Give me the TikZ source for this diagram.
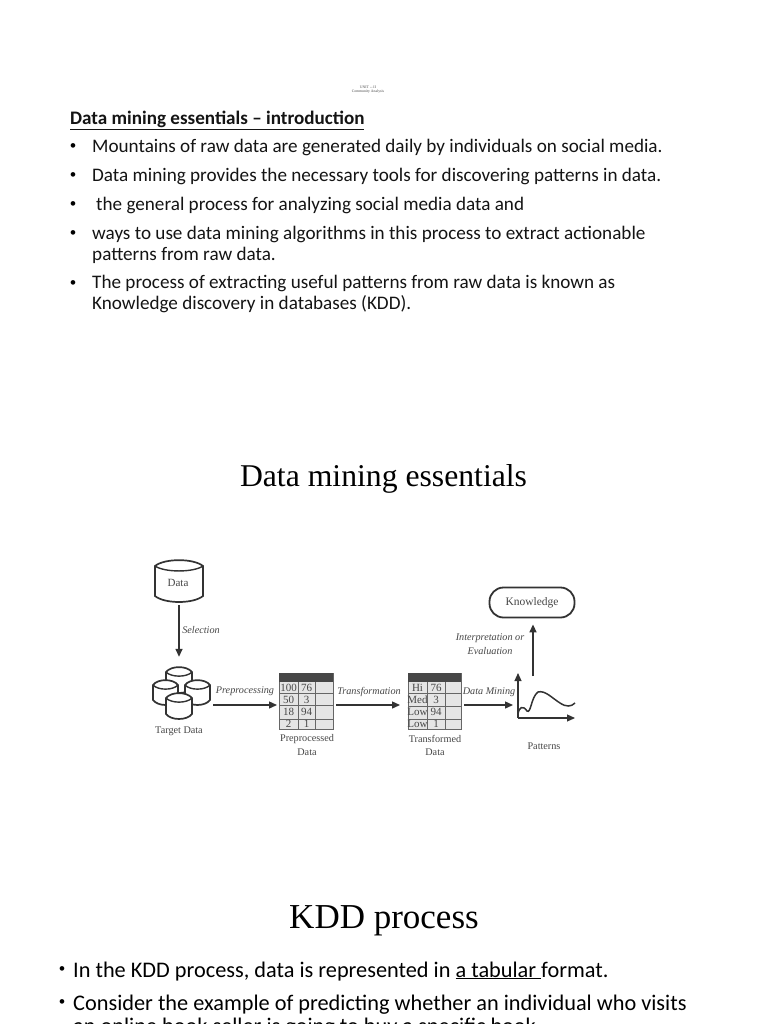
\documentclass[tikz,border=0pt]{standalone}
\usepackage{fontspec}
\setmainfont{Carlito}
\newfontfamily\serifface{Liberation Serif}
\newfontfamily\bulletface{Liberation Sans}
\usetikzlibrary{arrows.meta}
\newcommand{\fs}[1]{\fontsize{#1}{#1}\selectfont}
\colorlet{ink}{black!80}
\colorlet{soft}{black!72}
\tikzset{
  x=1pt,y=-1pt,
  bodytxt/.style={anchor=base west,inner sep=0pt,font=\fs{19.15},text=black!92},
  bigtxt/.style={anchor=base west,inner sep=0pt,font=\fs{22.3},text=black},
  bull/.style={anchor=base,inner sep=0pt,font=\bulletface\fs{17},text=black},
  bigbull/.style={anchor=base,inner sep=0pt,font=\bulletface\fs{17},text=black},
  titletxt/.style={anchor=base,inner sep=0pt,font=\serifface\fs{31.7},text=black},
  figtxt/.style={inner sep=0pt,font=\serifface\fs{10.2},text=soft},
  figit/.style={inner sep=0pt,font=\serifface\itshape\fs{10.2},text=soft},
  celltxt/.style={inner sep=0pt,font=\serifface\fs{11},text=soft},
  tiny/.style={inner sep=0pt,font=\serifface\fs{3.8},text=black!70},
  flow/.style={draw=ink,line width=1.4pt,-{Triangle[length=8pt,width=7pt]}},
  cyl/.style={draw=ink,line width=1.7pt,fill=white},
  grid/.style={draw=black!60,line width=.8pt},
  tabbox/.style={draw=black!60,line width=.8pt,fill=black!10,inner sep=0pt,anchor=north west},
  header/.style={draw=none,fill=black!72,inner sep=0pt,anchor=north west},
  frame/.style={draw=ink,line width=1.8pt,rounded corners=14pt,inner sep=0pt,
     font=\serifface\fs{11.5},text=soft,minimum width=85pt,minimum height=30pt},
  ghost/.style={inner sep=0pt,draw=none},
}
% x-left, y-top, width, height, rim depth
\newcommand{\drum}[5]{%
  \path[cyl] (#1,#2+#5) .. controls (#1+.2*#3,#2-.3*#5) and (#1+.8*#3,#2-.3*#5) .. (#1+#3,#2+#5)
    -- (#1+#3,#2+#4-#5) .. controls (#1+.8*#3,#2+#4+.33*#5) and (#1+.2*#3,#2+#4+.33*#5) .. (#1,#2+#4-#5) -- cycle;
  \draw[draw=ink,line width=1.4pt] (#1,#2+#5) .. controls (#1+.2*#3,#2+2.1*#5) and (#1+.8*#3,#2+2.1*#5) .. (#1+#3,#2+#5);}
\begin{document}
\begin{tikzpicture}
\useasboundingbox (0,0) rectangle (768,1024);
\clip (0,0) rectangle (768,1024);
\fill[white] (0,0) rectangle (768,1024);

\node[tiny] (unit) at (368,87) {UNIT -- II};
\node[tiny] (comm) at (368,92) {Community Analysis};

\node[bodytxt,font=\bfseries\fs{19.1}] (head) at (70,125) {\underline{Data mining essentials -- introduction}};
\node[bull] (b1) at (73,152) {•};
\node[bodytxt] (t1) at (92,153) {Mountains of raw data are generated daily by individuals on social media.};
\node[bull] (b2) at (73,181) {•};
\node[bodytxt] (t2) at (92,182) {Data mining provides the necessary tools for discovering patterns in data.};
\node[bull] (b3) at (73,210) {•};
\node[bodytxt] (t3) at (96,211) {the general process for analyzing social media data and};
\node[bull] (b4) at (73,239) {•};
\node[bodytxt] (t4) at (92,239.5) {ways to use data mining algorithms in this process to extract actionable};
\node[bodytxt] (t4b) at (92,260.5) {patterns from raw data.};
\node[bull] (b5) at (73,288) {•};
\node[bodytxt] (t5) at (92,288) {The process of extracting useful patterns from raw data is known as};
\node[bodytxt] (t5b) at (92,309) {Knowledge discovery in databases (KDD).};

\node[titletxt] (title1) at (383.5,486) {Data mining essentials};
\node[titletxt,font=\serifface\fs{35}] (title2) at (384,928) {KDD process};

\node[bigbull] (b6) at (62,974) {•};
\node[bigtxt] (t6) at (73,977) {In the KDD process, data is represented in \underline{a tabular }format.};
\node[bigbull] (b7) at (62,1007) {•};
\node[bigtxt] (t7) at (73,1010) {Consider the example of predicting whether an individual who visits};
\node[bigtxt] (t7b) at (73,1033) {an online book seller is going to buy a specific book.};

% Data store
\drum{155}{560}{48}{42}{6}
\node[ghost,minimum width=48pt,minimum height=42pt] (data) at (179,581) {};
\node[figtxt,font=\serifface\fs{11}] (datal) at (178,583) {Data};

% Target data
\drum{166}{667}{26}{26}{5}
\drum{153}{680}{25}{25}{5}
\drum{185}{680}{25}{25}{5}
\drum{166}{693}{26}{26}{5}
\node[ghost,minimum width=57pt,minimum height=52pt] (target) at (179,693) {};
\node[figtxt] (targetl) at (179,731) {Target Data};

% Table 1
\node[tabbox,minimum width=54pt,minimum height=56pt] (tabA) at (279,673) {};
\node[header,minimum width=54pt,minimum height=9pt] (headA) at (279,673) {};
\draw[grid] (279,693)--(333,693) (279,705)--(333,705) (279,719)--(333,719);
\draw[grid] (298,682)--(298,729) (315,682)--(315,729);
\node[celltxt] (a11) at (288.5,688) {100};
\node[celltxt] (a12) at (306.5,688) {76};
\node[celltxt] (a21) at (288.5,699.5) {50};
\node[celltxt] (a22) at (306.5,699.5) {3};
\node[celltxt] (a31) at (288.5,712) {18};
\node[celltxt] (a32) at (306.5,712) {94};
\node[celltxt] (a41) at (288.5,724) {2};
\node[celltxt] (a42) at (306.5,724) {1};
\node[figtxt] (prel1) at (307,739) {Preprocessed};
\node[figtxt] (prel2) at (307,752) {Data};

% Table 2
\node[tabbox,minimum width=53pt,minimum height=56pt] (tabB) at (408,673) {};
\node[header,minimum width=53pt,minimum height=9pt] (headB) at (408,673) {};
\draw[grid] (408,693)--(461,693) (408,706)--(461,706) (408,719)--(461,719);
\draw[grid] (427,682)--(427,729) (445,682)--(445,729);
\node[celltxt] (b11) at (417.5,688) {Hi};
\node[celltxt] (b12) at (436,688) {76};
\node[celltxt] (b21) at (417.5,699.5) {Med};
\node[celltxt] (b22) at (436,699.5) {3};
\node[celltxt] (b31) at (417.5,712) {Low};
\node[celltxt] (b32) at (436,712) {94};
\node[celltxt] (b41) at (417.5,724) {Low};
\node[celltxt] (b42) at (436,724) {1};
\node[figtxt] (trl1) at (435,739) {Transformed};
\node[figtxt] (trl2) at (435,752) {Data};

% Patterns
\coordinate (orig) at (518,718);
\coordinate (yend) at (518,673);
\coordinate (xend) at (575,718);
\draw[flow,line width=1.1pt] (orig) -- (yend);
\draw[flow,line width=1.1pt] (orig) -- (xend);
\draw[draw=ink,line width=1.5pt] (518,714) .. controls (519,707) and (523,705) .. (527,711)
  .. controls (531,714) and (531,697) .. (538,692)
  .. controls (545,690) and (552,698) .. (560,703)
  .. controls (566,707) and (571,707) .. (575,703);
\node[figtxt] (patl) at (544,746) {Patterns};

% Knowledge
\node[frame] (know) at (532,602.5) {Knowledge};
\node[figit] (il1) at (490,638) {Interpretation or};
\node[figit] (il2) at (490,651) {Evaluation};

% Connectors
\coordinate (s1) at (213,705);
\coordinate (e1) at (277,705);
\coordinate (s2) at (336,705);
\coordinate (e2) at (400,705);
\coordinate (s3) at (464,705);
\coordinate (e3) at (513,705);
\coordinate (s4) at (533,676);
\draw[flow] ([yshift=-3pt]data.south -| target.north) -- ([yshift=10pt]target.north);
\draw[flow] (s1) -- (e1);
\draw[flow] (s2) -- (e2);
\draw[flow] (s3) -- (e3);
\draw[flow] (s4) -- ([yshift=-6pt]know.south -| s4);
\node[figit] (sel) at (201,630) {Selection};
\node[figit] (prep) at (245,691) {Preprocessing};
\node[figit] (trans) at (369,692) {Transformation};
\node[figit] (dm) at (489,692) {Data Mining};
\end{tikzpicture}
\end{document}
